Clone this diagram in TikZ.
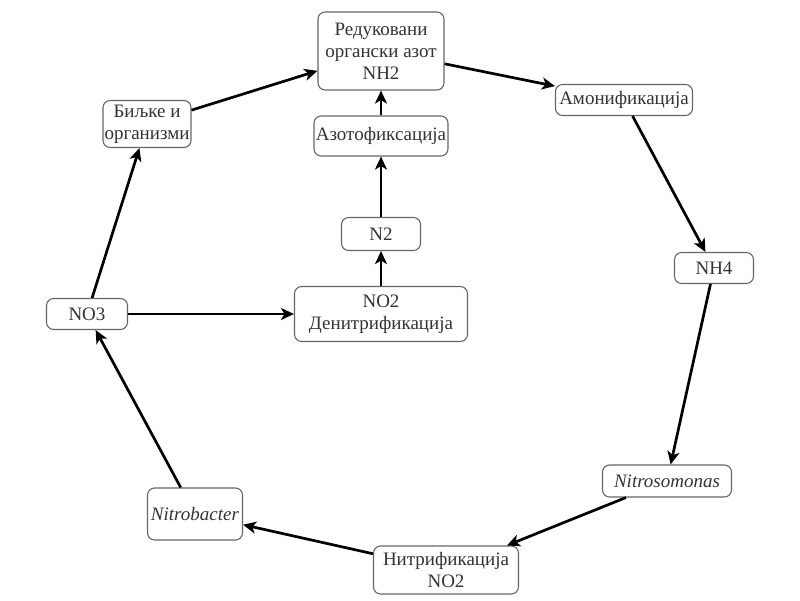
\documentclass[tikz,border=0pt]{standalone}
\usepackage{fontspec}
\setmainfont{Liberation Serif}
\newfontfamily\boxfont{Liberation Serif}
\usepackage{tikz}
\usetikzlibrary{
  arrows.meta,
  positioning,  % Function "of" (e.g. [right=of x])
}
\def\myboxround{2.5mm}
\tikzset{
  semithick,
  >={Stealth[length=13pt,width=12pt,inset=3.5pt]},
  my box/.style={
    draw=black!60,
    fill=white,
    text=black!80,
    line width=1.1pt,
    rounded corners=\myboxround,
    inner sep=1pt,
    align=center,
    font=\boxfont\fontsize{19}{22}\selectfont,
    rectangle
  },
  my flow/.style={
    ->,
    line width=2.7pt
  },
  cycle/.style={
    x=1pt,
    y=-1pt,
    every node/.style={my box}
  }
}
\begin{document}
\begin{tikzpicture}[cycle]
\useasboundingbox (0,0) rectangle (800,600);
% outer ring
\node[minimum width=126pt,minimum height=78pt] (red)    at (381,51)  {Редуковани\\органски азот\\NH2};
\node[minimum width=137pt,minimum height=31pt] (amon)   at (624,100) {Амонификација};
\node[minimum width=79pt, minimum height=31pt] (nh4)    at (714,268) {NH4};
\node[minimum width=129pt,minimum height=32pt] (nsomo)  at (667,481) {\textit{Nitrosomonas}};
\node[minimum width=145pt,minimum height=48pt] (nitrif) at (446,570) {Нитрификација\\NO2};
\node[minimum width=95pt, minimum height=52pt] (nbact)  at (195,514) {\textit{Nitrobacter}};
\node[minimum width=81pt, minimum height=31pt] (no3)    at (87,314)  {NO3};
\node[minimum width=88pt, minimum height=47pt] (bilj)   at (147,124) {Биљке и\\организми};
% inner column
\node[minimum width=173pt,minimum height=55pt] (den)    at (381,314) {NO2\\Денитрификација};
\node[minimum width=79pt, minimum height=33pt] (n2)     at (381,234) {N2};
\node[minimum width=134pt,minimum height=40pt] (fix)    at (381,136) {Азотофиксација};
\path[my flow] (bilj)   edge (red)
               (red)    edge (amon)
               (amon)   edge (nh4)
               (nh4)    edge (nsomo)
               (nsomo)  edge (nitrif)
               (nitrif) edge (nbact)
               (nbact)  edge (no3)
               (no3)    edge (bilj)
               (no3)    edge (den)
               (den)    edge (n2)
               (n2)     edge (fix)
               (fix)    edge (red);
\end{tikzpicture}
\end{document}
